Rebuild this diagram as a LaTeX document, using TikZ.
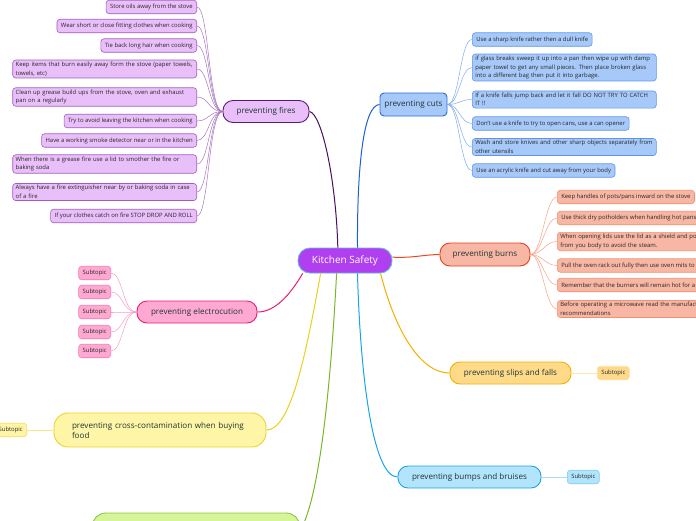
\documentclass[tikz,border=0pt]{standalone}
\usepackage{fontspec}
\setmainfont{Open Sans}
\newcommand{\subfnt}{\fontsize{5.9}{8.5}\selectfont\hyphenpenalty=10000\exhyphenpenalty=10000}
\newcommand{\topfnt}{\fontsize{8.1}{10}\selectfont\hyphenpenalty=10000}
\definecolor{txt}{HTML}{1E3434}
\definecolor{firF}{HTML}{E9BFF9}\definecolor{firB}{HTML}{5E1A73}\definecolor{firS}{HTML}{A35BC2}\definecolor{firC}{HTML}{4A0E5C}\definecolor{firL}{HTML}{A872BF}
\definecolor{cutF}{HTML}{A7C9FA}\definecolor{cutB}{HTML}{2B6BD6}\definecolor{cutS}{HTML}{5E95EA}\definecolor{cutC}{HTML}{1B5FD4}\definecolor{cutL}{HTML}{80AAF0}
\definecolor{burF}{HTML}{F8B7A4}\definecolor{burB}{HTML}{E5421D}\definecolor{burS}{HTML}{F3906F}\definecolor{burC}{HTML}{E84A1F}\definecolor{burL}{HTML}{F4A389}
\definecolor{eleF}{HTML}{FFA9D2}\definecolor{eleB}{HTML}{E61E78}\definecolor{eleS}{HTML}{F47AB2}\definecolor{eleC}{HTML}{EC1C6E}\definecolor{eleL}{HTML}{F79BC6}
\definecolor{croF}{HTML}{FFF5A6}\definecolor{croB}{HTML}{EDD22E}\definecolor{croS}{HTML}{F3DD60}\definecolor{croC}{HTML}{E9D01C}\definecolor{croL}{HTML}{F8E784}
\definecolor{greF}{HTML}{D5F598}\definecolor{greB}{HTML}{8DC63F}\definecolor{greC}{HTML}{7BB52A}
\definecolor{sliF}{HTML}{FFDA89}\definecolor{sliB}{HTML}{F4AE00}\definecolor{sliS}{HTML}{FFD98B}\definecolor{sliSB}{HTML}{FFE0A0}\definecolor{sliL}{HTML}{FFE6B0}
\definecolor{bumF}{HTML}{B2E4FC}\definecolor{bumB}{HTML}{19A4E6}\definecolor{bumS}{HTML}{7ACDF4}\definecolor{bumL}{HTML}{A8DDF7}
\definecolor{cenF}{HTML}{B03FF0}\definecolor{cenB}{HTML}{63B6E6}
\tikzset{
  sub/.style={draw, rounded corners=3pt, line width=0.6pt, inner xsep=4pt, inner ysep=2pt,
    minimum height=13.5pt, font=\subfnt, text=black!85, align=left},
  subw/.style={sub, text width=178pt, inner xsep=3pt},
  topic/.style={draw, rounded corners=10pt, line width=0.9pt, inner sep=0pt,
    font=\topfnt, text=txt, align=center, minimum height=22pt},
  mainc/.style={line width=1pt},
  subc/.style={line width=0.5pt},
}
\begin{document}
\begin{tikzpicture}[x=1pt,y=-1pt]
\useasboundingbox (0,0) rectangle (696,520);
\clip (0,0) rectangle (696,520);

% central
\node[draw=cenB, fill=cenF, rounded corners=12pt, line width=0.9pt, minimum width=94pt, minimum height=25pt, inner sep=0pt, text=white, font=\fontsize{10}{12}\selectfont] (ks) at (345,260.5) {Kitchen Safety};

% main topics
\node[topic, fill=firF, draw=firB, minimum width=86pt] (fires) at (266,111.5) {preventing fires};
\node[topic, fill=cutF, draw=cutB, minimum width=67pt, minimum height=23pt, rounded corners=4pt] (cuts) at (413.5,104.5) {preventing cuts};
\node[topic, fill=burF, draw=burB, minimum width=90pt, minimum height=23pt] (burns) at (485,254.5) {preventing burns};
\node[topic, fill=eleF, draw=eleB, minimum width=120pt] (elec) at (197,312) {preventing electrocution};
\node[topic, fill=croF, draw=croB, minimum height=34pt, rounded corners=14pt, text width=176pt, inner xsep=18pt, align=left] (cross) at (160,430) {preventing cross-contamination when buying food};
\node[topic, fill=greF, draw=greB, minimum width=208pt, minimum height=34pt, rounded corners=14pt] (green) at (196,530) {};
\node[topic, fill=sliF, draw=sliB, minimum width=121pt] (slips) at (510.5,373) {preventing slips and falls};
\node[topic, fill=bumF, draw=bumB, minimum width=143pt] (bumps) at (469.5,477) {preventing bumps and bruises};

% main connectors
\draw[mainc, firC] (fires.east) .. controls (322,114) and (336,180) .. (ks.119);
\draw[mainc, cutC] (ks.46) .. controls (357,170) and (363,105) .. (cuts.west);
\draw[mainc, burC] (ks.4) .. controls (415,258) and (420,255) .. (burns.west);
\draw[mainc, eleC] (ks.-163) .. controls (290,295) and (275,312) .. (elec.east);
\draw[mainc, croC] (ks.-152) .. controls (305,360) and (290,430) .. (cross.east);
\draw[mainc, greC] (ks.-123) .. controls (330,400) and (318,500) .. (green.east);
\draw[mainc, bumB] (ks.-46) .. controls (360,370) and (372,477) .. (bumps.west);
\draw[mainc, sliB] (ks.-20) .. controls (395,330) and (420,373) .. (slips.west);

% fires subtopics
\begin{scope}[every node/.append style={fill=firF, draw=firS}]
\node[sub, anchor=east] (f1) at (197,7) {Store oils away from the stove};
\node[sub, anchor=east] (f2) at (197,26) {Wear short or close fitting clothes when cooking};
\node[sub, anchor=east] (f3) at (197,45.5) {Tie back long hair when cooking};
\node[subw, anchor=east] (f4) at (197,69) {Keep items that burn easily away form the stove (paper towels, towels, etc)};
\node[subw, anchor=east] (f5) at (197,97) {Clean up grease build ups from the stove, oven and exhaust pan on a regularly};
\node[sub, anchor=east] (f6) at (197,121) {Try to avoid leaving the kitchen when cooking};
\node[sub, anchor=east] (f7) at (197,140.5) {Have a working smoke detector near or in the kitchen};
\node[subw, anchor=east] (f8) at (197,164) {When there is a grease fire use a lid to smother the fire or baking soda};
\node[subw, anchor=east] (f9) at (197,192) {Always have a fire extinguisher near by or baking soda in case of a fire};
\node[sub, anchor=east] (f10) at (197,216) {If your clothes catch on fire STOP DROP AND ROLL};
\end{scope}
\foreach \n in {f1,f2,f3,f4,f5,f6,f7,f8,f9,f10}
  \draw[subc, firL] (fires.west) .. controls +(-14,0) and +(12,0) .. (\n.east);

% cuts subtopics
\begin{scope}[every node/.append style={fill=cutF, draw=cutS}]
\node[sub, anchor=west] (c1) at (472,39.5) {Use a sharp knife rather then a dull knife};
\node[subw, anchor=west] (c2) at (472,67.5) {if glass breaks sweep it up into a pan then wipe up with damp paper towel to get any small pieces. Then place broken glass into a different bag then put it into garbage.};
\node[subw, anchor=west] (c3) at (472,99.5) {If a knife falls jump back and let it fall DO NOT TRY TO CATCH IT !!};
\node[sub, anchor=west] (c4) at (472,123.5) {Don't use a knife to try to open cans, use a can opener};
\node[subw, anchor=west] (c5) at (472,147) {Wash and store knives and other sharp objects separately from other utensils};
\node[sub, anchor=west] (c6) at (472,170.5) {Use an acrylic knife and cut away from your body};
\end{scope}
\foreach \n in {c1,c2,c3,c4,c5,c6}
  \draw[subc, cutL] (cuts.east) .. controls +(12,0) and +(-12,0) .. (\n.west);

% burns subtopics
\begin{scope}[every node/.append style={fill=burF, draw=burS}]
\node[sub, anchor=west] (b1) at (557,197) {Keep handles of pots/pans inward on the stove};
\node[sub, anchor=west] (b2) at (557,218) {Use thick dry potholders when handling hot pans};
\node[subw, anchor=west] (b3) at (557,241.5) {When opening lids use the lid as a shield and point it away from you body to avoid the steam.};
\node[sub, anchor=west] (b4) at (557,265.5) {Pull the oven rack out fully then use oven mits to take out food};
\node[sub, anchor=west] (b5) at (557,285) {Remember that the burners will remain hot for a while};
\node[subw, anchor=west] (b6) at (557,309) {Before operating a microwave read the manufacturer's recommendations};
\end{scope}
\foreach \n in {b1,b2,b3,b4,b5,b6}
  \draw[subc, burL] (burns.east) .. controls +(12,0) and +(-12,0) .. (\n.west);

% electrocution subtopics
\begin{scope}[every node/.append style={fill=eleF, draw=eleS}]
\node[sub, anchor=east] (e1) at (111,273) {Subtopic};
\node[sub, anchor=east] (e2) at (111,292) {Subtopic};
\node[sub, anchor=east] (e3) at (111,312) {Subtopic};
\node[sub, anchor=east] (e4) at (111,332) {Subtopic};
\node[sub, anchor=east] (e5) at (111,351) {Subtopic};
\end{scope}
\foreach \n in {e1,e2,e3,e4,e5}
  \draw[subc, eleL] (elec.west) .. controls +(-14,0) and +(12,0) .. (\n.east);

% other subtopics
\node[sub, anchor=east, fill=croF, draw=croS] (x1) at (27,430) {Subtopic};
\draw[subc, croL] (cross.west) -- (x1.east);
\node[sub, anchor=west, fill=sliS, draw=sliSB] (s1) at (597,373) {Subtopic};
\draw[subc, sliL] (slips.east) -- (s1.west);
\node[sub, anchor=west, fill=bumF, draw=bumS] (u1) at (567,477) {Subtopic};
\draw[subc, bumL] (bumps.east) -- (u1.west);
\end{tikzpicture}
\end{document}
